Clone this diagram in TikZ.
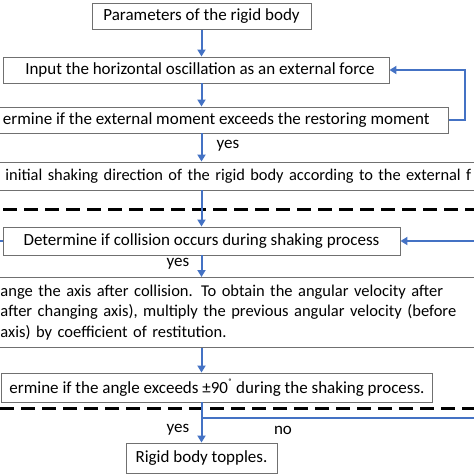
\documentclass[tikz,border=0pt]{standalone}
\usepackage{fontspec}
\setmainfont{Carlito}
\usetikzlibrary{arrows.meta}
\definecolor{arrowblue}{HTML}{4472C4}
\definecolor{boxgray}{HTML}{707070}
\begin{document}
\begin{tikzpicture}[x=1pt,y=-1pt,
  font=\fontsize{17}{20.5}\selectfont,
  box/.style={draw=boxgray, line width=0.9pt, fill=white, inner sep=0pt, text=black},
  arr/.style={draw=arrowblue, line width=2pt, -{Triangle[length=7pt,width=8pt]}},
  plainline/.style={draw=arrowblue, line width=2pt},
  sepline/.style={draw=black, line width=3pt, dash pattern=on 14pt off 7pt},
  lbl/.style={inner sep=0pt, text=black}]
\useasboundingbox (0,0) rectangle (474,474);
\clip (0,0) rectangle (474,474);
\fill[white] (0,0) rectangle (474,474);
\coordinate (sp) at (201.5,0);
% separators
\coordinate (d1a) at (3,209); \coordinate (d1b) at (480,209);
\coordinate (d2a) at (0,408); \coordinate (d2b) at (480,408);
\draw[sepline] (d1a) -- (d1b);
\draw[sepline] (d2a) -- (d2b);
% boxes
\node[box, minimum width=219pt, minimum height=26pt] (b1) at (201.5,16.5) {Parameters of the rigid body};
\node[box, minimum width=386pt, minimum height=26pt] (b2) at (196,70) {\hspace*{8pt}Input the horizontal oscillation as an external force};
\node[box, anchor=east, inner xsep=19pt, minimum height=26pt] (b3) at (449,120) {ermine if the external moment exceeds the restoring moment};
\node[box, anchor=west, inner xsep=25pt, text width=560pt, align=left, minimum height=28pt, font=\fontsize{16.4}{20.5}\selectfont] (b4) at (-20,176) {initial shaking direction of the rigid body according to the external f};
\node[box, minimum width=397pt, minimum height=28pt] (b5) at (201.5,241) {Determine if collision occurs during shaking process};
\node[box, anchor=north west, inner xsep=12pt, text width=520pt, align=left, minimum height=70pt, font=\fontsize{16.5}{20.5}\selectfont] (b6) at (-12,277) {ange the axis after collision. To obtain the angular velocity after\\after changing axis), multiply the previous angular velocity (before\\axis) by coefficient of restitution.};
\node[box, anchor=east, inner xsep=8pt, minimum height=29pt] (b7) at (433,387.5) {ermine if the angle exceeds ±90\textsuperscript{˚} during the shaking process.};
\node[box, minimum width=151pt, minimum height=30pt] (b8) at (201.5,458) {Rigid body topples.};
% connectors
\draw[arr] (b1.south) -- (b1.south |- b2.north);
\draw[arr] (sp |- b2.south) -- (sp |- b3.north);
\draw[arr] (sp |- b3.south) -- (sp |- b4.north);
\draw[arr] (sp |- b4.south) -- (sp |- b5.north);
\draw[arr] (sp |- b5.south) -- (sp |- b6.north);
\draw[arr] (sp |- b6.south) -- (sp |- b7.north);
\draw[arr] (sp |- b7.south) -- (sp |- b8.north);
\draw[arr] (b3.east) -- ++(16,0) |- (b2.east);
\coordinate (rin) at (476,241);
\draw[arr] (rin) -- (b5.east);
\coordinate (lin) at (-2,241);
\draw[plainline] (lin) -- (b5.west);
\coordinate (br) at (201.5,418);
\coordinate (noend) at (476,418);
\draw[plainline] (br) -- (noend);
% labels
\node[lbl] (y1) at (228,146) {yes};
\node[lbl] (y2) at (178,264) {yes};
\node[lbl] (y3) at (178,430) {yes};
\node[lbl] (n1) at (283,430) {no};
\end{tikzpicture}
\end{document}
